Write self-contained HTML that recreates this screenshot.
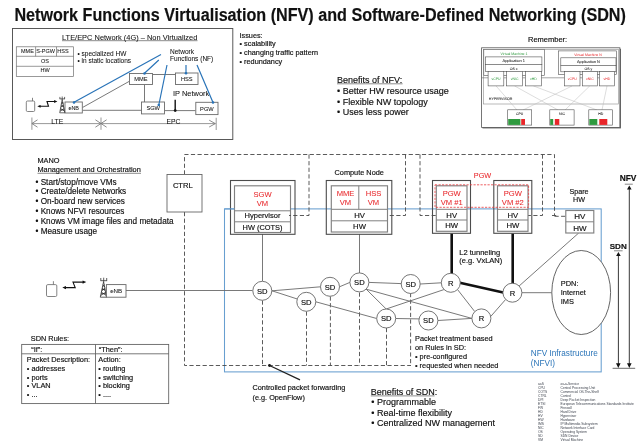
<!DOCTYPE html>
<html>
<head>
<meta charset="utf-8">
<title>NFV and SDN</title>
<style>
html,body{margin:0;padding:0;background:#fff;}
body{width:640px;height:443px;overflow:hidden;font-family:"Liberation Sans",sans-serif;}
svg{display:block;position:absolute;left:0;top:0;filter:blur(0.3px);}
text{font-family:"Liberation Sans",sans-serif;fill:#111;stroke:#111;stroke-width:0.16px;}
.g{stroke:#6a6a6a;stroke-width:0.9;fill:none;}
.k{stroke:#333;stroke-width:1.2;fill:none;}
.d{stroke:#484848;stroke-width:0.9;fill:none;stroke-dasharray:4.2 2.4;}
.b{stroke:#2a74b8;stroke-width:1.2;fill:none;}
.nb{stroke:#689fd0;stroke-width:1.05;fill:none;}
.th{stroke:#111;stroke-width:2.6;fill:none;}
#remember text{stroke-width:0.04px;text-rendering:geometricPrecision;}
#lte text{stroke-width:0.05px;}
#gloss text{stroke:none;fill:#3a3f4a;}
.w{fill:#fff;}
.r{fill:#e8262a;stroke:#e8262a;stroke-width:0.05px;}
.c{text-anchor:middle;}
</style>
</head>
<body>
<svg width="640" height="443" viewBox="0 0 640 443">
<rect x="0" y="0" width="640" height="443" fill="#fff"/>

<!-- ===== Title ===== -->
<text x="14.4" y="21.3" font-size="17.6" font-weight="bold" fill="#111" stroke="#111" stroke-width="0.25" textLength="611.5" lengthAdjust="spacingAndGlyphs">Network Functions Virtualisation (NFV) and Software-Defined Networking (SDN)</text>

<!-- ===== LTE/EPC box ===== -->
<g id="lte">
<rect x="12.5" y="28.5" width="220.3" height="111" class="k" style="stroke:#505050;stroke-width:0.95"/>
<text x="62" y="39.6" font-size="7.45">LTE/EPC Network (4G) – Non Virtualized</text>
<!-- small table -->
<rect x="16.3" y="46.8" width="57.3" height="29.7" class="k" style="stroke:#6e6e6e;stroke-width:0.7"/>
<path d="M16.3 56.3H73.6M16.3 66.3H73.6M35.6 46.8V56.3M56.5 46.8V56.3" class="k" style="stroke:#6e6e6e;stroke-width:0.7"/>
<text x="27.4" y="52.7" font-size="5.5" class="c">MME</text>
<text x="45.6" y="52.7" font-size="5.5" class="c">S-PGW</text>
<text x="63" y="52.7" font-size="5.5" class="c">HSS</text>
<text x="45" y="62.8" font-size="5.5" class="c">OS</text>
<text x="45" y="72.3" font-size="5.5" class="c">HW</text>
<text x="77.5" y="55.5" font-size="6.5">• specialized HW</text>
<text x="77.5" y="63.3" font-size="6.5">• in static locations</text>
<text x="170" y="53.6" font-size="6.55">Network</text>
<text x="170" y="61.4" font-size="6.55">Functions (NF)</text>
<!-- grey connectors -->
<path d="M152.5 74.5H175.5M144.5 84.5V102M82.5 107.5L129.5 81.2M82.5 110.3H142M164.5 110.6H195.5" class="g"/>
<!-- boxes -->
<rect x="129.5" y="73.5" width="23" height="11" class="g w"/>
<rect x="175.5" y="73" width="22.5" height="11.5" class="g w"/>
<rect x="65" y="102" width="17.3" height="11" class="g w"/>
<rect x="141.5" y="102" width="23" height="11.9" class="g w"/>
<rect x="195.8" y="102.3" width="22.2" height="12.3" class="g w"/>
<text x="141" y="81" font-size="5.7" class="c">MME</text>
<text x="186.8" y="80.8" font-size="5.7" class="c">HSS</text>
<text x="73.7" y="109.5" font-size="5.4" class="c">eNB</text>
<text x="153.2" y="110.1" font-size="5.7" class="c">SGW</text>
<text x="206.9" y="110.6" font-size="5.7" class="c">PGW</text>
<text x="173" y="96.2" font-size="7.45">IP Network</text>
<path d="M175.2 99.8V110.5" stroke="#111" stroke-width="1.4"/>
<circle cx="175.2" cy="110.6" r="1.4" fill="#111"/>
<!-- blue pointers -->
<path d="M161 54.5L74 102.3M158.8 60L144.5 73.3M167 65L158.8 105M186 65V73M197 65L213 102.5" class="b"/>
<circle cx="74" cy="102.5" r="1.3" fill="#2a74b8"/><circle cx="144.5" cy="73.5" r="1.3" fill="#2a74b8"/>
<circle cx="158.8" cy="105" r="1.3" fill="#2a74b8"/><circle cx="186" cy="73.2" r="1.3" fill="#2a74b8"/>
<circle cx="213" cy="102.5" r="1.3" fill="#2a74b8"/>
<!-- UE phone, radio arrow, tower -->
<rect x="26.3" y="101" width="8.4" height="10.5" rx="1.2" class="g" style="stroke:#6e6e6e;stroke-width:0.85"/>
<path d="M32.5 97.8V101" class="g" style="stroke:#6e6e6e;stroke-width:0.85"/>
<path d="M39 106.3H48.5L47 101.5H55.5" stroke="#111" stroke-width="1.1" fill="none"/>
<path d="M37.3 106.3L40.6 104.9V107.7ZM57.4 101.5L54.1 100.1V102.9Z" fill="#111"/>
<path d="M62.2 99.4L59.7 112.8H64.8ZM59.6 98.9H65M59.9 96.9V98.9M62.2 96.5V99.4M64.6 96.9V98.9M60 111.3L64.3 108.3M64.6 111.3L60.5 108.3M60.7 107.4L63.8 104.8M64 107.4L61.2 104.8M61.4 104L63.2 102M63.3 104L61.8 102M60.3 109.8H64.4M61 106.1H63.7" stroke="#2a2a2a" stroke-width="0.7" fill="none"/>
<!-- dimension line -->
<path d="M31.9 123.6H215.5M31.9 117.5V129.8M101 117.5V129.8M216.2 117.8V130" class="g" style="stroke:#858585;stroke-width:0.85"/>
<path d="M37.5 119.8L31.9 123.5L37.5 127.2M95.4 119.8L101 123.5L95.4 127.2M106.6 119.8L101 123.5L106.6 127.2M209.2 120.2L215.3 123.6L209.2 127" class="g" style="stroke:#777;stroke-width:0.85"/>
<text x="57.2" y="123.6" font-size="6.8" class="c">LTE</text>
<text x="173.5" y="123.6" font-size="6.8" class="c">EPC</text>
</g>

<!-- ===== Issues ===== -->
<g font-size="7.3">
<text x="239.5" y="37.5">Issues:</text>
<text x="239.5" y="46.3">• scalability</text>
<text x="239.5" y="55">• changing traffic pattern</text>
<text x="239.5" y="63.8">• redundancy</text>
</g>

<!-- ===== Benefits of NFV ===== -->
<g font-size="9">
<text x="337" y="82.5">Benefits of NFV:</text>
<text x="337" y="93.8">• Better HW resource usage</text>
<text x="337" y="104.5">• Flexible NW topology</text>
<text x="337" y="115.2">• Uses less power</text>
</g>

<!-- ===== Remember ===== -->
<g id="remember">
<text x="528" y="42" font-size="7.5" style="stroke-width:0.16px;text-rendering:auto">Remember:</text>
<rect x="482.5" y="48.8" width="138.4" height="79.6" fill="#5a5a5a"/>
<rect x="481.6" y="47.8" width="138.3" height="79.6" fill="#fff" stroke="#555" stroke-width="0.8"/>
<rect x="483.3" y="49.3" width="135.2" height="54.7" class="g" style="stroke:#8a8a8a;stroke-width:0.6"/>
<g stroke="#bbb" stroke-width="0.5" fill="none">
<path d="M496 85.9L517 110M514.5 85.9L558 110M533.3 85.9L597 110M572.2 85.9L523 110M589.8 85.9L565 110M607 85.9L602 110"/>
</g>
<!-- VM 1 -->
<g class="g w" style="stroke:#505050;stroke-width:0.6">
<rect x="483.8" y="49.3" width="60.7" height="26"/>
<rect x="485.4" y="56.9" width="56.5" height="7.4"/>
<rect x="485.4" y="64.3" width="56.5" height="7"/>
</g>
<text x="514" y="54.6" font-size="3.5" class="c" style="fill:#2f9a3f;stroke:none">Virtual Machine 1</text>
<text x="513.7" y="62.1" font-size="3.9" class="c">Application 1</text>
<text x="513.7" y="69.5" font-size="3.5" class="c">OS x</text>
<path d="M481.6 77.8H488.1M503.8 77.8H506.6M522.5 77.8H525.4M541.3 77.8H564.5" class="g" style="stroke:#666;stroke-width:0.6"/>
<g class="g w" style="stroke:#505050;stroke-width:0.6">
<rect x="488.1" y="71.3" width="15.7" height="14.6"/>
<rect x="506.6" y="71.3" width="15.9" height="14.6"/>
<rect x="525.4" y="71.3" width="15.9" height="14.6"/>
</g>
<text x="496" y="80" font-size="3.5" class="c" style="fill:#2f9a3f;stroke:none">vCPU</text>
<text x="514.6" y="80" font-size="3.5" class="c" style="fill:#2f9a3f;stroke:none">vNIC</text>
<text x="533.4" y="80" font-size="3.5" class="c" style="fill:#2f9a3f;stroke:none">vHD</text>
<!-- VM N -->
<g class="g w" style="stroke:#505050;stroke-width:0.6">
<rect x="558.5" y="50.9" width="58.1" height="23.7"/>
<rect x="560.8" y="57.8" width="55.2" height="7.5"/>
<rect x="560.8" y="65.3" width="55.2" height="6.5"/>
</g>
<text x="588" y="55.6" font-size="3.5" class="c" style="fill:#e8262a;stroke:none">Virtual Machine N</text>
<text x="588.4" y="63.1" font-size="3.9" class="c">Application N</text>
<text x="588.4" y="70.3" font-size="3.5" class="c">OS y</text>
<path d="M580 77.8H582.3M597.3 77.8H599.5" class="g" style="stroke:#666;stroke-width:0.6"/>
<g class="g w" style="stroke:#505050;stroke-width:0.6">
<rect x="564.5" y="71.5" width="15.5" height="14.4"/>
<rect x="582.3" y="71.5" width="15" height="14.4"/>
<rect x="599.5" y="71.5" width="15" height="14.4"/>
</g>
<text x="572.2" y="80.2" font-size="3.5" class="c" style="fill:#e8262a;stroke:none">vCPU</text>
<text x="589.8" y="80.2" font-size="3.5" class="c" style="fill:#e8262a;stroke:none">vNIC</text>
<text x="607" y="80.2" font-size="3.5" class="c" style="fill:#e8262a;stroke:none">vHD</text>
<text x="488.8" y="100.3" font-size="3.6">HYPERVISOR</text>
<!-- HW resources -->
<g class="g w" style="stroke:#505050;stroke-width:0.6">
<rect x="507.7" y="109.8" width="24" height="15.3"/>
<rect x="549.8" y="109.8" width="24.3" height="15.3"/>
<rect x="588.8" y="109.8" width="23.8" height="15.3"/>
</g>
<text x="519.6" y="114.9" font-size="3.5" class="c">CPU</text>
<text x="561.9" y="114.9" font-size="3.5" class="c">NIC</text>
<text x="600.8" y="114.9" font-size="3.5" class="c">HD</text>
<rect x="508.2" y="119" width="12.2" height="5.9" fill="#2f9a3f"/><rect x="521.2" y="119" width="3.8" height="5.9" fill="#e8262a"/>
<rect x="550.2" y="119" width="3" height="5.9" fill="#2f9a3f"/><rect x="554.8" y="119" width="4.5" height="5.9" fill="#e8262a"/>
<rect x="589.3" y="119" width="8" height="5.9" fill="#2f9a3f"/><rect x="599.3" y="119" width="8" height="5.9" fill="#e8262a"/>
</g>
<!-- ===== MANO ===== -->
<g id="mano">
<text x="37.5" y="162.5" font-size="7.35">MANO</text>
<text x="37.5" y="172.2" font-size="7.35">Management and Orchestration</text>
<g font-size="8.2">
<text x="35.5" y="184.7">• Start/stop/move VMs</text>
<text x="35.5" y="194.4">• Create/delete Networks</text>
<text x="35.5" y="204.2">• On-board new services</text>
<text x="35.5" y="214.0">• Knows NFVI resources</text>
<text x="35.5" y="223.9">• Knows VM image files and metadata</text>
<text x="35.5" y="233.7">• Measure usage</text>
</g>
</g>

<!-- ===== Main NFV/SDN diagram ===== -->
<g id="main">
<!-- NFVI blue frame -->
<rect x="224.5" y="208.9" width="376.7" height="163" class="nb"/>
<!-- dashed control lines -->
<path d="M184.5 174.5V154.5H554.5V215.5M552 215.5H557M554.5 216.3H566M309 154.5V215.5H289M405.5 154.5V215.5H388M420 154.5V215.5H436.5M542.5 154.5V215.5H528" class="d"/>
<path d="M184.5 212V365.5H411" class="d"/>
<path d="M262.5 300.5V365.5M306.5 311.5V365.5M330.4 296.5V365.5M359.5 292.5V365.5M386.5 328V365.5M410.6 293V365.5" class="d"/>
<!-- CTRL -->
<rect x="167" y="174.5" width="35" height="37.5" class="g w" style="stroke:#666"/>
<text x="182.8" y="187.9" font-size="7.6" class="c">CTRL</text>
<!-- grey links -->
<path d="M262.5 234V281M359.5 234V273M125.5 290.5H252.5" class="g"/>
<path d="M272 290.8L320.5 286.8M272 290.8L297.3 299M315.8 301.8L376.7 318.5M339.5 286.8L349.9 282.4M368.9 282.4L401.2 283.6M420.2 284L441.3 282.8M366.2 289.2L386.2 309M366.2 289.2L471.9 318.4M386.2 309L443.9 289.6M395.7 318.5L419.1 318.9M437.9 320.5L471.9 318.4M457.5 289.5L474.7 311.5M490.7 316.5L505.7 299.4M521.9 292.7H551.8M519.1 286L578.7 233" class="g"/>
<!-- thick L2 tunnel -->
<path d="M451.7 233.4V274M512.7 233.4V284M459.8 282.8L503.2 292.5" class="th"/>
<!-- SGW server -->
<rect x="230.5" y="180.5" width="64.5" height="53.8" class="k" style="stroke:#4c4c4c;stroke-width:1.1"/>
<rect x="234.5" y="185.8" width="56" height="46.7" class="g w" style="stroke:#808080;stroke-width:1.15"/>
<path d="M234.5 210.8H290.5M234.5 221.8H290.5" class="g" style="stroke:#808080;stroke-width:1"/>
<path d="M224.5 208.9H234.5" class="nb"/>
<text x="262.5" y="196.8" font-size="7.6" class="c r">SGW</text>
<text x="262.5" y="205.6" font-size="7.6" class="c r">VM</text>
<text x="262.5" y="218.4" font-size="7.5" class="c">Hypervisor</text>
<text x="262.5" y="230" font-size="7.4" class="c">HW (COTS)</text>
<path d="M289 215.5H291" class="d"/>
<!-- Compute node -->
<text x="334.5" y="175" font-size="7.35">Compute Node</text>
<rect x="326.3" y="180.5" width="65.5" height="53.8" class="k" style="stroke:#4c4c4c;stroke-width:1.1"/>
<rect x="331.3" y="185.8" width="56.2" height="46.2" class="g w" style="stroke:#808080;stroke-width:1.15"/>
<path d="M331.3 209.3H387.5M331.3 220.8H387.5M358.8 185.8V209.3" class="g" style="stroke:#808080;stroke-width:1"/>
<text x="345.5" y="196.3" font-size="7.6" class="c r">MME</text>
<text x="345.5" y="205.1" font-size="7.6" class="c r">VM</text>
<text x="373.5" y="196.3" font-size="7.6" class="c r">HSS</text>
<text x="373.5" y="205.1" font-size="7.6" class="c r">VM</text>
<text x="359.5" y="218" font-size="7.7" class="c">HV</text>
<text x="359.5" y="228.8" font-size="7.7" class="c">HW</text>
<!-- PGW servers -->
<rect x="432.5" y="180.5" width="38" height="52.8" class="k" style="stroke:#4c4c4c;stroke-width:1.1"/>
<rect x="436.3" y="185.8" width="30.7" height="45.5" class="g w" style="stroke:#808080;stroke-width:1.15"/>
<path d="M436.3 209.3H467M436.3 220H467" class="g" style="stroke:#808080;stroke-width:1"/>
<rect x="493.8" y="180.5" width="38" height="52.8" class="k" style="stroke:#4c4c4c;stroke-width:1.1"/>
<rect x="497.5" y="185.8" width="30.5" height="45.5" class="g w" style="stroke:#808080;stroke-width:1.15"/>
<path d="M497.5 209.3H528M497.5 220H528" class="g" style="stroke:#808080;stroke-width:1"/>
<rect x="435" y="184.8" width="93.6" height="22.5" fill="none" stroke="#e8393b" stroke-width="0.8" stroke-dasharray="2.2 1.3"/>
<text x="482.5" y="178.3" font-size="7.3" class="c r">PGW</text>
<text x="451.7" y="196.3" font-size="7.6" class="c r">PGW</text>
<text x="451.7" y="205.1" font-size="7.6" class="c r">VM #1</text>
<text x="512.8" y="196.3" font-size="7.6" class="c r">PGW</text>
<text x="512.8" y="205.1" font-size="7.6" class="c r">VM #2</text>
<text x="451.7" y="217.6" font-size="7.7" class="c">HV</text>
<text x="451.7" y="228.2" font-size="7.7" class="c">HW</text>
<text x="512.8" y="217.6" font-size="7.7" class="c">HV</text>
<text x="512.8" y="228.2" font-size="7.7" class="c">HW</text>
<!-- Spare HW -->
<text x="579" y="194.3" font-size="7.2" class="c">Spare</text>
<text x="579" y="201.9" font-size="7.2" class="c">HW</text>
<rect x="565.8" y="210.5" width="28" height="22.5" class="g w" style="stroke:#808080;stroke-width:1.15"/>
<path d="M565.8 221.8H593.8" class="g" style="stroke:#808080;stroke-width:1"/>
<text x="579.8" y="219" font-size="8" class="c">HV</text>
<text x="579.8" y="230.7" font-size="8" class="c">HW</text>
<!-- SD / R nodes -->
<g class="g w" style="stroke:#666">
<circle cx="262.3" cy="290.8" r="9.5"/><circle cx="306.3" cy="301.8" r="9.5"/><circle cx="330" cy="286.8" r="9.5"/>
<circle cx="359.4" cy="282.4" r="9.5"/><circle cx="386.2" cy="318.5" r="9.5"/><circle cx="410.7" cy="284" r="9.5"/>
<circle cx="428.4" cy="320.5" r="9.5"/><circle cx="450.8" cy="282.8" r="9.5"/><circle cx="512.4" cy="292.7" r="9.5"/>
<circle cx="481.4" cy="318.4" r="9.5"/>
</g>
<g font-size="7.6" class="c" style="stroke-width:0.3px">
<text x="262.3" y="293.7">SD</text><text x="306.3" y="304.7">SD</text><text x="330" y="289.7">SD</text>
<text x="359.4" y="285.3">SD</text><text x="386.2" y="321.4">SD</text><text x="410.7" y="286.9">SD</text>
<text x="428.4" y="323.4">SD</text><text x="450.8" y="285.7">R</text><text x="512.4" y="295.6">R</text>
<text x="481.4" y="321.3">R</text>
</g>
<!-- PDN cloud -->
<ellipse cx="581.2" cy="292.5" rx="29.4" ry="42" class="g w" style="stroke:#555"/>
<g font-size="7.4">
<text x="560.8" y="286.3">PDN:</text><text x="560.8" y="295">Internet</text><text x="560.8" y="303.8">IMS</text>
</g>
<!-- L2 tunneling -->
<text x="459.3" y="254.5" font-size="7.5">L2 tunneling</text>
<text x="459.3" y="263.3" font-size="7.5">(e.g. VxLAN)</text>
<!-- UE / eNB -->
<rect x="46.5" y="284.6" width="10.3" height="11.9" rx="1.3" class="g" style="stroke:#6e6e6e;stroke-width:0.85"/>
<path d="M53.4 281.2V284.6" class="g" style="stroke:#6e6e6e;stroke-width:0.85"/>
<path d="M64.5 287.6H75.2L73 282.1H84" stroke="#111" stroke-width="1.1" fill="none"/>
<path d="M62.3 287.6L66 286V289.2ZM86.3 282.1L82.6 280.5V283.7Z" fill="#111"/>
<path d="M103.6 281.6L100.3 297.2H106.5ZM100.5 280.7H107.1M100.8 278V280.7M103.7 277.7V281.6M106.7 278V280.7M100.6 295.5L106 292M106.3 295.5L101.2 292M101.5 291L105.3 288M105.5 291L102 288M102.3 287L104.6 284.8M104.8 287L102.7 284.8M101 293.7H105.9M101.8 289.5H105.2" stroke="#2a2a2a" stroke-width="0.75" fill="none"/>
<rect x="106.4" y="284.6" width="19.6" height="12.6" class="g w" style="stroke:#666"/>
<text x="116.2" y="293.3" font-size="6.2" class="c" style="stroke-width:0.05px">eNB</text>
<!-- NFV / SDN scope arrows -->
<text x="628" y="181" font-size="8.4" font-weight="bold" class="c" style="fill:#111">NFV</text>
<text x="618.2" y="248.7" font-size="8.1" font-weight="bold" class="c" style="fill:#111">SDN</text>
<path d="M624.8 184.2H632.8M614 250.8H622.6" stroke="#555" stroke-width="0.7"/>
<path d="M612.6 368.3H635.2" stroke="#444" stroke-width="0.8"/>
<path d="M629.3 189V364M618.4 255.5V364" stroke="#222" stroke-width="0.9"/>
<path d="M629.3 185.5L627 189.6H631.6ZM618.4 251.9L616.1 256H620.7ZM629.3 368L627 363.2H631.6ZM618.3 368L616 363.2H620.6Z" fill="#111"/>
<!-- NFVI label -->
<text x="530.8" y="355.5" font-size="8.2" style="fill:#2a74b8;stroke:none">NFV Infrastructure</text>
<text x="530.8" y="365.5" font-size="8.2" style="fill:#2a74b8;stroke:none">(NFVI)</text>
<!-- packet treatment -->
<g font-size="7.35">
<text x="415" y="341.2">Packet treatment based</text>
<text x="415" y="350">on Rules in SD:</text>
<text x="415" y="358.8">• pre-configured</text>
<text x="415" y="367.6">• requested when needed</text>
</g>
</g>

<path d="M62 40.7H197.5M37.5 173.3H141M337 83.8H402.6M370.8 395.9H434.6" stroke="#2a2a2a" stroke-width="0.55" fill="none"/>
<!-- ===== Bottom: SDN rules, labels, glossary ===== -->
<g id="bottom">
<text x="30.8" y="341.2" font-size="7.35">SDN Rules:</text>
<rect x="21.7" y="344.4" width="147" height="59.2" class="g" style="stroke:#5e5e5e;stroke-width:0.85"/>
<path d="M21.7 353.8H168.7M95.5 344.4V403.6" class="g" style="stroke:#5e5e5e;stroke-width:0.85"/>
<g font-size="7.35">
<text x="31.3" y="352.3">“If”:</text>
<text x="98.8" y="352.3">“Then”:</text>
<text x="26.8" y="361.6">Packet Description:</text>
<text x="26.8" y="370.5">• addresses</text>
<text x="26.8" y="379.5">• ports</text>
<text x="26.8" y="388.4">• VLAN</text>
<text x="26.8" y="397.3">•  ...</text>
<text x="98.3" y="361.6">Action:</text>
<text x="98.3" y="370.5">• routing</text>
<text x="98.3" y="379.5">• switching</text>
<text x="98.3" y="388.4">• blocking</text>
<text x="98.3" y="397.3">• ....</text>
</g>
<circle cx="269.5" cy="365.5" r="1.4" fill="#111"/>
<path d="M269.5 365.5L300 379.8" stroke="#222" stroke-width="1.3"/>
<text x="252.5" y="390.4" font-size="7.3">Controlled packet forwarding</text>
<text x="252.5" y="399.6" font-size="7.3">(e.g. OpenFlow)</text>
<g font-size="9">
<text x="370.8" y="394.6">Benefits of SDN:</text>
<text x="371.3" y="405">• Programmable</text>
<text x="371.3" y="415.7">• Real-time flexibility</text>
<text x="371.3" y="426.4">• Centralized NW management</text>
</g>
<g id="gloss" font-size="3.3">
<text x="538" y="384.6">aaS</text><text x="560.5" y="384.6">as-a-Service</text>
<text x="538" y="388.6">CPU</text><text x="560.5" y="388.6">Central Processing Unit</text>
<text x="538" y="392.6">COTS</text><text x="560.5" y="392.6">Commercial Off-The-Shelf</text>
<text x="538" y="396.6">CTRL</text><text x="560.5" y="396.6">Control</text>
<text x="538" y="400.6">DPI</text><text x="560.5" y="400.6">Deep Packet Inspection</text>
<text x="538" y="404.6">ETSI</text><text x="560.5" y="404.6">European Telecommunications Standards Institute</text>
<text x="538" y="408.6">FW</text><text x="560.5" y="408.6">Firewall</text>
<text x="538" y="412.6">HD</text><text x="560.5" y="412.6">Hard Drive</text>
<text x="538" y="416.6">HV</text><text x="560.5" y="416.6">Hypervisor</text>
<text x="538" y="420.6">HW</text><text x="560.5" y="420.6">Hardware</text>
<text x="538" y="424.6">IMS</text><text x="560.5" y="424.6">IP Multimedia Subsystem</text>
<text x="538" y="428.6">NIC</text><text x="560.5" y="428.6">Network Interface Card</text>
<text x="538" y="432.6">OS</text><text x="560.5" y="432.6">Operating System</text>
<text x="538" y="436.6">SD</text><text x="560.5" y="436.6">SDN Device</text>
<text x="538" y="440.6">VM</text><text x="560.5" y="440.6">Virtual Machine</text>
</g>
</g>

</svg>
</body>
</html>
